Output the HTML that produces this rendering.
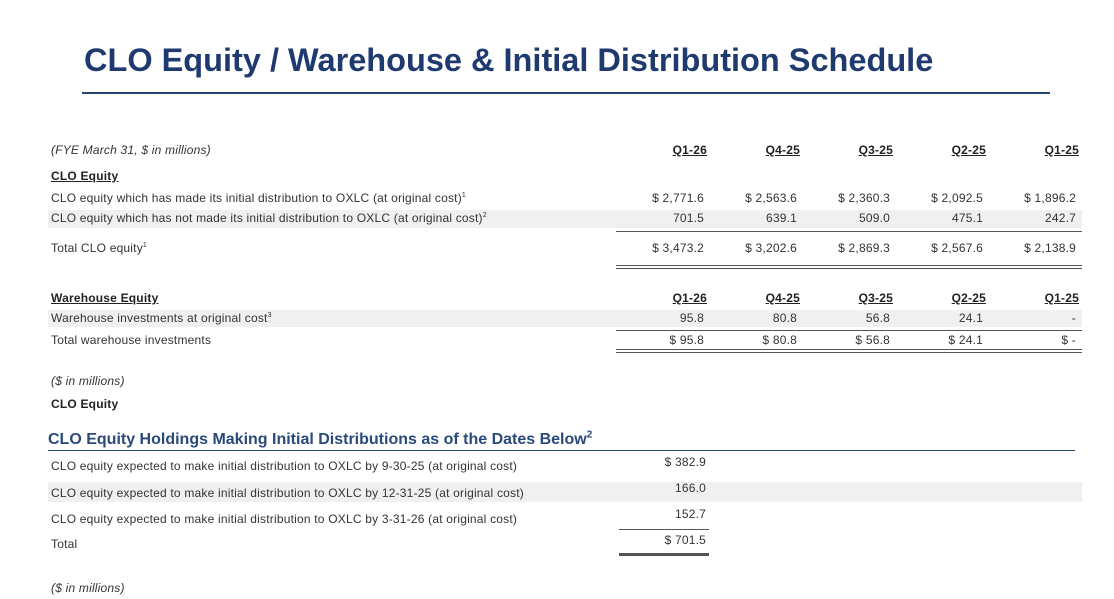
<!DOCTYPE html>
<html><head><meta charset="utf-8"><style>
body{margin:0;width:1114px;height:599px;background:#fff;position:relative;overflow:hidden;font-family:"Liberation Sans",Arial,sans-serif;color:#333}
.a{position:absolute;white-space:nowrap;font-size:12px;line-height:14px;letter-spacing:0.2px}
.r{text-align:right;width:100px}
.h{font-weight:bold;text-decoration:underline;color:#222}
.i{font-style:italic}
.shade{position:absolute;background:#f0f0f0}
.ln{position:absolute;background:#555;height:1px}
.dbl{position:absolute;height:2px;border-top:1.5px solid #555;border-bottom:1.5px solid #555}
sup{font-size:7px;line-height:0}
</style></head><body>
<div class="a" style="left:84px;top:42px;font-size:32.5px;line-height:36px;letter-spacing:0;font-weight:bold;color:#1f3a6e">CLO Equity / Warehouse &amp; Initial Distribution Schedule</div>
<div class="ln" style="left:82px;top:92px;width:968px;height:2px;background:#2a4275"></div>

<div class="shade" style="left:48px;top:210px;width:1034px;height:18px"></div>
<div class="shade" style="left:48px;top:310px;width:1034px;height:17px"></div>
<div class="shade" style="left:48px;top:482px;width:1034px;height:20px"></div>

<div class="a i" style="left:51px;top:143px">(FYE March 31, $ in millions)</div>
<div class="a h" style="left:51px;top:169px">CLO Equity</div>
<div class="a" style="left:51px;top:191px">CLO equity which has made its initial distribution to OXLC (at original cost)<sup>1</sup></div>
<div class="a" style="left:51px;top:211px">CLO equity which has not made its initial distribution to OXLC (at original cost)<sup>2</sup></div>
<div class="a" style="left:51px;top:241px">Total CLO equity<sup>1</sup></div>
<div class="a h" style="left:51px;top:291px">Warehouse Equity</div>
<div class="a" style="left:51px;top:311px">Warehouse investments at original cost<sup>3</sup></div>
<div class="a" style="left:51px;top:333px">Total warehouse investments</div>

<div class="ln" style="left:616px;top:231px;width:466px"></div>
<div class="dbl" style="left:616px;top:265px;width:466px"></div>
<div class="ln" style="left:616px;top:330px;width:466px"></div>
<div class="dbl" style="left:616px;top:349px;width:466px"></div>

<div id="cols"></div>

<div class="a i" style="left:51px;top:374px">($ in millions)</div>
<div class="a" style="left:51px;top:397px;font-weight:bold;color:#222">CLO Equity</div>
<div class="a" style="left:48px;top:431px;font-size:16px;line-height:18px;letter-spacing:0;font-weight:bold;color:#2a4a7a">CLO Equity Holdings Making Initial Distributions as of the Dates Below<sup style="font-size:10px">2</sup></div>
<div class="ln" style="left:48px;top:450px;width:1027px;background:#2a4275"></div>
<div class="a" style="left:51px;top:459px">CLO equity expected to make initial distribution to OXLC by 9-30-25 (at original cost)</div>
<div class="a" style="left:51px;top:486px">CLO equity expected to make initial distribution to OXLC by 12-31-25 (at original cost)</div>
<div class="a" style="left:51px;top:512px">CLO equity expected to make initial distribution to OXLC by 3-31-26 (at original cost)</div>
<div class="a" style="left:51px;top:537px">Total</div>
<div class="a r" style="left:606px;top:455px">$ 382.9</div>
<div class="a r" style="left:606px;top:481px">166.0</div>
<div class="a r" style="left:606px;top:507px">152.7</div>
<div class="a r" style="left:606px;top:533px">$ 701.5</div>
<div class="ln" style="left:619px;top:529px;width:90px"></div>
<div class="ln" style="left:619px;top:553px;width:90px;height:3px;background:#555"></div>
<div class="a i" style="left:51px;top:581px">($ in millions)</div>

<script>
const quarters=["Q1-26","Q4-25","Q3-25","Q2-25","Q1-25"];
const made=["$ 2,771.6","$ 2,563.6","$ 2,360.3","$ 2,092.5","$ 1,896.2"];
const notMade=["701.5","639.1","509.0","475.1","242.7"];
const totalClo=["$ 3,473.2","$ 3,202.6","$ 2,869.3","$ 2,567.6","$ 2,138.9"];
const warehouse=["95.8","80.8","56.8","24.1","-"];
const totalWh=["$ 95.8","$ 80.8","$ 56.8","$ 24.1","$ -"];
const right=[707,800,893,986,1079];
const c=document.getElementById('cols');
function put(txt,x,y,cls,name){
  const d=document.createElement('div');
  d.className='a r '+cls;
  d.style.left=(x-100)+'px';d.style.top=y+'px';
  d.textContent=txt;
  
  
  c.appendChild(d);
}
quarters.forEach((q,i)=>{
  const x=right[i];
  put(q,x,143,'h','header-'+q);
  put(made[i],x-3,191,'','made-'+q);
  put(notMade[i],x-3,211,'','not-made-'+q);
  put(totalClo[i],x-3,241,'','total-clo-'+q);
  put(q,x,291,'h','warehouse-header-'+q);
  put(warehouse[i],x-3,311,'','warehouse-'+q);
  put(totalWh[i],x-3,333,'','total-warehouse-'+q);
});
</script>
</body></html>
